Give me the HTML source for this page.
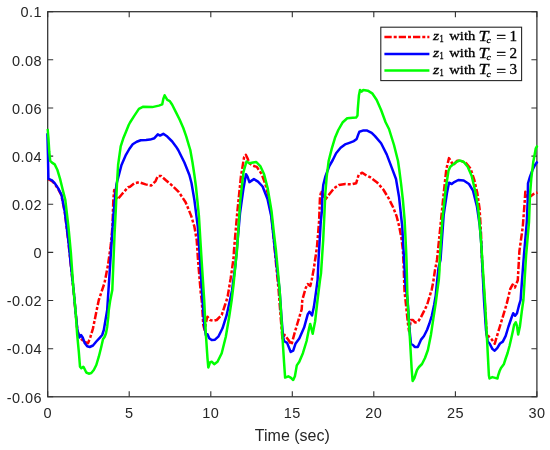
<!DOCTYPE html><html><head><meta charset="utf-8"><style>html,body{margin:0;padding:0;background:#fff;}svg{display:block;}</style></head><body><svg width="550" height="450" viewBox="0 0 550 450"><rect x="0" y="0" width="550" height="450" fill="#fff"/><path d="M47.7 396.8 V391.3 M47.7 11.7 V17.2 M129.2 396.8 V391.3 M129.2 11.7 V17.2 M210.8 396.8 V391.3 M210.8 11.7 V17.2 M292.3 396.8 V391.3 M292.3 11.7 V17.2 M373.8 396.8 V391.3 M373.8 11.7 V17.2 M455.4 396.8 V391.3 M455.4 11.7 V17.2 M536.9 396.8 V391.3 M536.9 11.7 V17.2 M47.7 11.7 H53.2 M536.9 11.7 H531.4 M47.7 59.8 H53.2 M536.9 59.8 H531.4 M47.7 108.0 H53.2 M536.9 108.0 H531.4 M47.7 156.1 H53.2 M536.9 156.1 H531.4 M47.7 204.2 H53.2 M536.9 204.2 H531.4 M47.7 252.4 H53.2 M536.9 252.4 H531.4 M47.7 300.5 H53.2 M536.9 300.5 H531.4 M47.7 348.7 H53.2 M536.9 348.7 H531.4 M47.7 396.8 H53.2 M536.9 396.8 H531.4" stroke="#303030" stroke-width="1.1" fill="none"/><rect x="47.7" y="11.7" width="489.2" height="385.1" fill="none" stroke="#303030" stroke-width="1.25"/><defs><clipPath id="c"><rect x="46.2" y="10.2" width="492.2" height="388.1"/></clipPath></defs><g clip-path="url(#c)" fill="none" stroke-linejoin="round" stroke-linecap="butt"><path d="M48.4 179.3 L50.2 180.2 L52.0 181.1 L54.7 183.8 L58.2 189.1 L61.4 195.3 L64.8 212.4 L68.4 241.7 L70.9 266.1 L73.6 290.7 L75.4 310.7 L77.4 330.7 L80.0 338.0 L84.0 341.5 L88.0 343.3 L90.5 336.7 L93.0 328.3 L94.7 320.0 L96.7 310.0 L98.8 300.0 L104.5 283.0 L108.0 265.0 L110.8 245.0 L112.5 226.0 L113.3 200.0 L114.2 190.0 L115.5 196.0 L117.5 199.5 L122.7 193.3 L128.0 187.3 L130.0 186.7 L134.4 183.3 L138.9 182.2 L145.6 184.4 L151.1 185.6 L155.6 181.1 L157.8 176.0 L161.1 176.0 L165.6 180.0 L172.2 185.6 L178.9 192.2 L185.6 202.2 L191.1 215.6 L194.4 226.7 L196.7 240.0 L198.0 260.0 L200.8 293.4 L201.7 300.0 L203.3 325.0 L204.6 330.0 L206.7 319.2 L207.5 316.7 L210.0 320.0 L213.3 320.8 L216.7 320.0 L221.7 315.0 L225.0 305.0 L226.7 300.0 L227.7 296.2 L230.6 278.9 L233.5 258.7 L234.0 250.0 L237.2 213.3 L240.9 176.7 L244.1 157.1 L245.8 154.7 L247.5 158.3 L249.4 163.2 L253.1 165.7 L256.8 166.9 L261.7 174.2 L265.3 184.0 L268.2 195.0 L271.2 213.7 L273.6 237.0 L276.3 266.6 L278.6 290.0 L280.6 316.3 L282.4 338.5 L284.6 334.9 L288.3 339.8 L291.5 344.6 L294.4 333.7 L298.0 321.5 L301.7 309.3 L302.3 300.0 L305.7 288.0 L307.7 284.0 L310.3 286.0 L311.7 280.0 L313.7 269.3 L315.7 256.0 L317.1 245.6 L319.1 221.1 L320.0 196.7 L321.5 190.6 L323.5 196.0 L325.7 199.1 L329.3 194.2 L334.2 188.1 L339.1 184.9 L345.2 184.0 L351.3 184.4 L356.2 183.2 L358.7 174.7 L362.3 172.7 L366.0 175.2 L370.0 177.1 L377.1 182.4 L383.3 189.5 L388.7 198.4 L393.1 207.3 L396.6 216.2 L399.3 226.8 L401.6 239.3 L402.9 250.0 L403.6 264.4 L404.5 291.0 L405.5 300.0 L408.0 324.0 L409.0 331.0 L411.0 320.0 L413.0 320.0 L415.0 322.5 L417.8 322.0 L420.9 317.3 L424.0 311.1 L427.1 304.9 L429.4 297.1 L431.8 289.3 L433.3 281.6 L435.0 270.0 L437.0 260.0 L439.7 233.3 L443.7 193.3 L446.3 169.3 L449.0 158.1 L451.1 161.3 L453.0 165.3 L457.0 160.8 L461.0 160.8 L466.0 163.0 L470.5 168.5 L474.3 180.0 L477.3 193.0 L479.6 209.0 L481.0 233.0 L482.0 260.0 L484.8 303.0 L486.8 335.0 L488.9 336.6 L491.8 339.5 L494.7 343.8 L498.1 332.3 L502.5 317.8 L506.8 303.4 L510.3 288.9 L512.6 284.6 L514.9 287.5 L517.8 280.2 L519.4 251.1 L522.8 226.7 L524.7 201.7 L525.3 191.7 L526.5 196.0 L527.5 198.3 L530.0 196.7 L533.3 194.2 L537.5 192.5" stroke="#ff0000" stroke-width="2.5" stroke-dasharray="7.3,2,3,2"/><path d="M47.2 133.3 L47.9 155.5 L48.4 178.6 L50.2 179.5 L52.0 180.4 L54.7 183.1 L58.2 188.4 L61.4 194.6 L64.8 211.7 L68.4 241.0 L70.9 265.4 L73.6 290.0 L75.4 310.0 L77.4 330.0 L79.3 337.5 L81.0 335.0 L82.7 337.5 L84.7 343.0 L87.2 346.3 L89.7 347.0 L93.0 345.5 L96.3 341.5 L99.7 337.8 L102.2 335.0 L103.8 330.0 L105.5 320.0 L107.2 310.0 L110.0 266.7 L113.3 216.7 L114.8 200.0 L116.5 184.0 L118.9 174.9 L121.5 165.0 L125.5 155.7 L129.3 149.0 L132.7 144.3 L136.7 141.7 L140.7 140.3 L146.0 140.0 L150.0 139.6 L154.4 138.2 L157.8 134.4 L160.0 135.6 L163.3 133.8 L167.3 136.6 L172.2 141.5 L175.9 146.4 L178.2 150.0 L184.4 162.5 L189.4 175.0 L191.5 183.0 L194.4 200.0 L197.8 226.7 L200.0 260.0 L202.5 300.0 L204.2 325.0 L205.8 335.0 L207.5 334.2 L209.2 338.3 L211.7 340.0 L215.0 339.7 L218.3 336.7 L222.5 328.3 L226.7 315.0 L230.0 300.0 L232.0 290.5 L235.5 264.5 L236.8 250.0 L240.0 213.3 L243.4 188.9 L246.0 174.2 L247.5 176.7 L249.4 182.1 L253.9 179.1 L258.0 181.6 L262.6 186.5 L267.5 199.0 L271.3 216.6 L274.0 241.0 L276.6 265.4 L279.6 290.0 L281.4 316.0 L283.0 336.0 L284.0 341.0 L287.1 342.9 L290.7 352.0 L293.2 350.7 L295.6 343.4 L299.3 338.5 L304.1 327.6 L307.8 314.1 L309.5 311.7 L312.0 315.4 L313.9 306.8 L316.3 289.8 L317.6 280.0 L318.5 260.0 L319.7 240.0 L320.8 221.1 L322.0 210.0 L322.4 194.0 L323.3 184.7 L325.3 176.7 L329.3 166.0 L332.8 160.0 L336.1 153.3 L340.6 147.8 L345.0 144.4 L349.4 142.8 L353.9 141.1 L356.7 138.9 L358.3 134.4 L359.4 131.7 L362.8 130.6 L367.2 130.6 L371.7 132.8 L375.0 136.1 L381.1 143.3 L386.7 154.4 L392.2 168.9 L396.0 179.0 L399.0 196.7 L401.5 220.0 L402.2 226.0 L403.8 255.0 L405.5 285.0 L407.6 300.0 L409.6 330.0 L411.0 344.0 L413.0 345.0 L414.7 346.9 L417.8 346.9 L420.9 339.9 L424.0 336.0 L427.1 329.8 L429.4 323.5 L431.8 315.8 L434.1 304.9 L435.7 295.6 L437.2 280.0 L438.5 268.0 L440.5 260.0 L443.7 214.7 L446.9 193.3 L449.0 182.7 L451.7 184.0 L454.3 182.1 L458.3 180.0 L463.7 180.5 L469.0 184.0 L473.0 190.7 L477.0 206.7 L479.7 225.3 L481.5 246.7 L482.0 260.0 L484.0 300.0 L486.0 330.0 L487.7 341.5 L489.6 343.5 L492.5 349.1 L494.7 350.7 L497.2 348.2 L500.0 343.5 L502.8 341.6 L505.7 335.9 L508.5 326.5 L511.4 318.0 L513.2 313.2 L515.1 315.8 L517.0 313.2 L518.9 305.7 L520.6 300.0 L521.8 283.1 L523.9 255.6 L526.8 222.2 L527.7 200.0 L528.0 183.3 L530.0 176.7 L532.5 170.0 L535.0 165.0 L537.5 161.5" stroke="#0000ff" stroke-width="2.5"/><path d="M47.6 128.9 L48.4 137.8 L49.3 152.0 L50.2 160.9 L52.0 162.6 L54.7 164.4 L57.3 169.7 L60.0 178.6 L62.6 189.3 L65.3 199.9 L68.4 226.3 L70.9 253.2 L73.3 287.3 L75.5 310.0 L77.2 335.0 L78.8 351.7 L80.0 366.7 L81.3 368.3 L83.3 366.7 L84.7 369.2 L86.3 372.5 L88.8 373.7 L91.3 373.0 L93.8 370.0 L96.3 365.0 L98.8 356.7 L101.3 346.7 L103.0 339.2 L104.7 336.7 L106.0 333.3 L107.2 326.7 L108.3 316.7 L108.8 310.0 L110.1 301.0 L112.3 290.0 L114.6 233.0 L115.8 210.0 L116.9 185.0 L118.1 165.0 L119.4 155.7 L120.7 146.3 L123.3 138.3 L126.0 131.7 L128.7 125.0 L130.0 122.5 L134.4 115.6 L138.9 108.9 L143.3 106.7 L152.2 107.1 L158.9 105.6 L162.2 104.4 L163.3 98.9 L164.6 95.3 L167.3 99.9 L169.8 101.1 L172.2 104.8 L175.9 112.1 L179.6 119.5 L183.3 128.0 L186.3 136.6 L188.8 145.2 L190.3 150.0 L192.5 162.5 L194.4 175.0 L196.0 187.0 L198.9 215.6 L200.8 247.0 L201.6 260.0 L204.2 300.0 L205.8 333.3 L207.5 358.3 L208.3 367.5 L210.0 362.5 L211.7 361.7 L214.2 364.2 L217.5 361.7 L221.7 353.3 L225.8 336.7 L229.2 316.7 L231.7 300.0 L233.5 285.0 L235.5 264.5 L237.0 250.0 L240.2 201.1 L243.5 171.8 L246.5 161.5 L249.4 163.2 L253.1 162.5 L256.3 162.0 L260.5 166.4 L264.1 174.2 L267.8 188.9 L271.5 210.9 L273.9 232.9 L275.9 250.0 L277.6 267.8 L279.6 290.0 L281.3 316.6 L282.7 341.0 L284.1 362.9 L285.1 377.6 L288.3 376.3 L290.7 377.6 L293.2 380.0 L294.9 376.3 L296.8 365.4 L299.3 361.7 L302.9 353.2 L306.6 341.0 L309.0 328.8 L310.2 323.9 L312.7 333.7 L315.1 321.5 L317.6 299.5 L320.0 280.0 L321.0 273.3 L323.2 240.0 L324.6 210.0 L325.3 194.0 L326.7 176.7 L328.7 160.7 L331.7 148.9 L335.0 137.8 L338.3 130.0 L342.8 122.2 L347.2 118.3 L352.8 117.8 L356.1 117.6 L357.5 115.5 L357.8 108.9 L358.9 95.6 L360.0 90.0 L361.6 91.6 L363.3 90.0 L367.8 90.7 L372.2 93.3 L376.7 100.0 L381.1 110.0 L385.6 122.2 L389.0 129.0 L394.0 145.0 L398.0 161.0 L399.3 170.0 L401.1 184.2 L402.9 200.2 L404.6 219.7 L406.1 250.0 L406.5 260.0 L407.5 300.0 L410.0 340.0 L411.6 368.0 L412.6 381.0 L414.4 378.0 L417.0 370.0 L419.0 367.0 L422.0 364.0 L425.0 358.0 L427.9 350.0 L431.0 334.4 L433.3 318.9 L435.7 303.3 L437.7 287.8 L438.8 280.0 L439.5 270.0 L439.7 260.0 L442.3 220.0 L445.8 188.0 L448.5 170.7 L450.3 166.7 L453.0 164.5 L456.5 161.9 L459.7 160.5 L463.7 161.9 L467.7 166.7 L471.7 176.0 L475.7 193.3 L478.3 209.3 L480.5 233.3 L482.3 260.0 L485.1 303.4 L487.1 340.9 L488.9 375.6 L489.5 378.5 L492.3 377.1 L495.2 377.9 L497.5 378.5 L498.1 375.6 L499.6 371.0 L501.0 368.0 L503.8 364.3 L505.5 359.0 L507.6 353.0 L509.5 346.0 L511.4 337.8 L513.0 330.5 L514.2 324.6 L515.8 322.3 L517.0 326.0 L518.2 334.5 L519.9 326.5 L521.8 311.3 L523.4 300.0 L526.1 255.6 L529.0 222.2 L530.0 195.0 L531.3 178.3 L533.3 161.7 L535.8 148.3 L537.5 145.5" stroke="#00ff00" stroke-width="2.5"/></g><g font-family="'Liberation Sans', Arial, sans-serif" font-size="14.5" letter-spacing="0.45" fill="#262626"><text x="42.0" y="17.4" text-anchor="end">0.1</text><text x="42.0" y="65.5" text-anchor="end">0.08</text><text x="42.0" y="113.7" text-anchor="end">0.06</text><text x="42.0" y="161.8" text-anchor="end">0.04</text><text x="42.0" y="209.9" text-anchor="end">0.02</text><text x="42.0" y="258.1" text-anchor="end">0</text><text x="42.0" y="306.2" text-anchor="end">-0.02</text><text x="42.0" y="354.4" text-anchor="end">-0.04</text><text x="42.0" y="402.5" text-anchor="end">-0.06</text><text x="47.7" y="417.8" text-anchor="middle">0</text><text x="129.2" y="417.8" text-anchor="middle">5</text><text x="210.8" y="417.8" text-anchor="middle">10</text><text x="292.3" y="417.8" text-anchor="middle">15</text><text x="373.8" y="417.8" text-anchor="middle">20</text><text x="455.4" y="417.8" text-anchor="middle">25</text><text x="536.9" y="417.8" text-anchor="middle">30</text></g><text x="292.3" y="440.5" text-anchor="middle" font-family="'Liberation Sans', Arial, sans-serif" font-size="16" fill="#262626">Time (sec)</text><rect x="380.8" y="27.2" width="140.8" height="53.4" fill="#fff" stroke="#262626" stroke-width="1.1"/><path d="M384.4 36.9 H429.4" stroke="#ff0000" stroke-width="2.5" stroke-dasharray="7.3,2,3,2"/><g font-family="'Liberation Serif', serif" fill="#000" stroke="#000" stroke-width="0.3"><text x="433.0" y="40.3" font-style="italic" font-size="13" textLength="6.2" lengthAdjust="spacingAndGlyphs">z</text><text x="439.4" y="42.4" font-size="9.5" textLength="4.2" lengthAdjust="spacingAndGlyphs">1</text><text x="449.3" y="40.3" font-size="13.2" textLength="26" lengthAdjust="spacingAndGlyphs">with</text><text x="478.6" y="40.5" font-style="italic" font-size="14" textLength="10" lengthAdjust="spacingAndGlyphs">T</text><text x="486.6" y="42.9" font-style="italic" font-size="9" textLength="4.4" lengthAdjust="spacingAndGlyphs">c</text><text x="496.3" y="42.2" font-size="14" textLength="9.8" lengthAdjust="spacingAndGlyphs">=</text><text x="509.6" y="40.6" font-size="14.2" textLength="7.6" lengthAdjust="spacingAndGlyphs">1</text></g><path d="M384.4 53.9 H429.4" stroke="#0000ff" stroke-width="2.5"/><g font-family="'Liberation Serif', serif" fill="#000" stroke="#000" stroke-width="0.3"><text x="433.0" y="57.3" font-style="italic" font-size="13" textLength="6.2" lengthAdjust="spacingAndGlyphs">z</text><text x="439.4" y="59.4" font-size="9.5" textLength="4.2" lengthAdjust="spacingAndGlyphs">1</text><text x="449.3" y="57.3" font-size="13.2" textLength="26" lengthAdjust="spacingAndGlyphs">with</text><text x="478.6" y="57.5" font-style="italic" font-size="14" textLength="10" lengthAdjust="spacingAndGlyphs">T</text><text x="486.6" y="59.9" font-style="italic" font-size="9" textLength="4.4" lengthAdjust="spacingAndGlyphs">c</text><text x="496.3" y="59.2" font-size="14" textLength="9.8" lengthAdjust="spacingAndGlyphs">=</text><text x="509.6" y="57.6" font-size="14.2" textLength="7.6" lengthAdjust="spacingAndGlyphs">2</text></g><path d="M384.4 70.6 H429.4" stroke="#00ff00" stroke-width="2.5"/><g font-family="'Liberation Serif', serif" fill="#000" stroke="#000" stroke-width="0.3"><text x="433.0" y="74.0" font-style="italic" font-size="13" textLength="6.2" lengthAdjust="spacingAndGlyphs">z</text><text x="439.4" y="76.1" font-size="9.5" textLength="4.2" lengthAdjust="spacingAndGlyphs">1</text><text x="449.3" y="74.0" font-size="13.2" textLength="26" lengthAdjust="spacingAndGlyphs">with</text><text x="478.6" y="74.2" font-style="italic" font-size="14" textLength="10" lengthAdjust="spacingAndGlyphs">T</text><text x="486.6" y="76.6" font-style="italic" font-size="9" textLength="4.4" lengthAdjust="spacingAndGlyphs">c</text><text x="496.3" y="75.9" font-size="14" textLength="9.8" lengthAdjust="spacingAndGlyphs">=</text><text x="509.6" y="74.3" font-size="14.2" textLength="7.6" lengthAdjust="spacingAndGlyphs">3</text></g></svg></body></html>
